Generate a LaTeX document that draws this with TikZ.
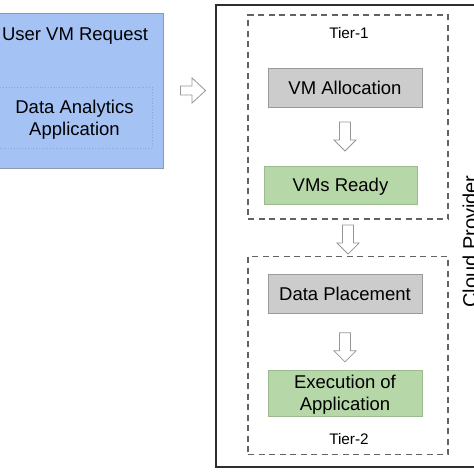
\documentclass[tikz,border=0pt]{standalone}
\usepackage{fontspec}
\setmainfont{Liberation Sans}
\usepackage{xcolor}
\usetikzlibrary{calc}
\definecolor{request_blue}{HTML}{A4C2F4}
\definecolor{request_edge}{HTML}{8E99AE}
\definecolor{app_edge}{HTML}{8CA4D2}
\definecolor{stage_gray}{HTML}{CCCCCC}
\definecolor{stage_gray_edge}{HTML}{9A9A9A}
\definecolor{stage_green}{HTML}{B6D7A8}
\definecolor{stage_green_edge}{HTML}{9DB990}
\definecolor{gray3}{HTML}{2E2E2E}
\definecolor{arrow_gray}{HTML}{979797}

\tikzset{
  stage/.style={rectangle, draw, line width=0.8pt, inner sep=0pt, align=center,
    text height=13.5pt, text depth=0pt, font=\fontsize{18.5}{22}\selectfont},
  twolines/.style={text height=35.5pt, text depth=0pt},
  tierbox/.style={rectangle, draw=gray3!75, line width=1.2pt, dash pattern=on 6pt off 4.5pt, inner sep=0pt},
  down arrow/.pic={
    \draw[arrow_gray, fill=white, line width=0.8pt]
      (-5.5,-14.5) -- (5.5,-14.5) -- (5.5,3.5) -- (11,3.5) -- (0,14.5) -- (-11,3.5) -- (-5.5,3.5) -- cycle;
  },
  right arrow/.pic={
    \draw[arrow_gray, fill=white, line width=0.8pt]
      (-12.5,-4.5) -- (-1,-4.5) -- (-1,-12.5) -- (12.5,0) -- (-1,12.5) -- (-1,4.5) -- (-12.5,4.5) -- cycle;
  }
}

\begin{document}
\begin{tikzpicture}[x=1pt, y=-1pt]
    \useasboundingbox (0,0) rectangle (474,474);
    \clip (0,0) rectangle (474,474);
    \fill[white] (0,0) rectangle (474,474);

    % User side - request box with the application inside
    \begin{scope}
      \node[rectangle, draw=request_edge, fill=request_blue, line width=0.8pt,
        minimum width=178pt, minimum height=155pt] (request) at (74,90.5) {};
      \node[anchor=base, font=\fontsize{18.5}{22}\selectfont] (request label) at (75,40) {User VM Request};
      \node[stage, twolines, draw=app_edge, dotted, minimum width=155pt, minimum height=61pt] (app) at (74.5,117.5)
        {Data Analytics\\Application};
    \end{scope}

    % Cloud provider side
    \node[rectangle, draw=gray3, line width=2pt, minimum width=294pt, minimum height=462pt] (provider) at (363,236) {};
    \node[rotate=90, anchor=base, font=\fontsize{20}{24}\selectfont] (provider label) at (477,241.5) {Cloud Provider};

    % Tier-1 - allocation of the VMs
    \begin{scope}
      \node[tierbox, minimum width=200pt, minimum height=204pt] (tier1) at (348,117) {};
      \node[anchor=base, font=\fontsize{15.3}{18}\selectfont] (tier1 label) at (349,38) {Tier-1};
      \node[stage, draw=stage_gray_edge, fill=stage_gray, minimum width=154pt, minimum height=39pt] (alloc) at (345,87.5) {VM Allocation};
      \node[stage, draw=stage_green_edge, fill=stage_green, minimum width=153pt, minimum height=38pt] (ready) at (340.5,185) {VMs Ready};
    \end{scope}

    % Tier-2 - placement of the data and execution
    \begin{scope}
      \node[tierbox, minimum width=200pt, minimum height=198pt] (tier2) at (348,355.5) {};
      \node[anchor=base, font=\fontsize{15.3}{18}\selectfont] (tier2 label) at (349,444) {Tier-2};
      \node[stage, draw=stage_gray_edge, fill=stage_gray, minimum width=154pt, minimum height=39pt] (place) at (345,294) {Data Placement};
      \node[stage, twolines, draw=stage_green_edge, fill=stage_green, minimum width=154pt, minimum height=46pt] (exec) at (345,393) {Execution of\\Application};
    \end{scope}

    % Hollow arrows between the steps
    \pic at ($(request.east)!0.575!(provider.west |- request.east)$) {right arrow};
    \pic at ($(alloc.south)!0.5!(alloc.south |- ready.north)$) {down arrow};
    \pic at ($(tier1.south)!0.55!(tier2.north)$) {down arrow};
    \pic at ($(place.south)!0.6!(exec.north)$) {down arrow};
  \end{tikzpicture}
\end{document}
